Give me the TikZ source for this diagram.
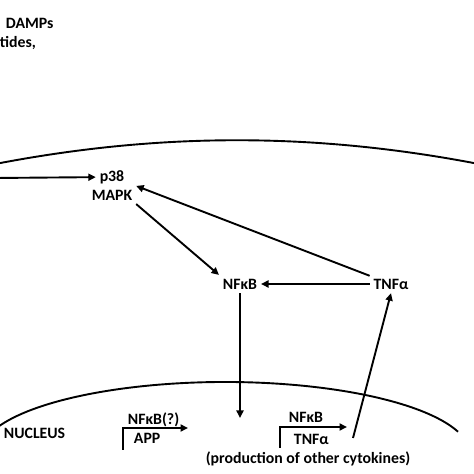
\documentclass[tikz,border=0pt]{standalone}
\usepackage{fontspec}
\setmainfont{Carlito}
\usetikzlibrary{arrows.meta}
\begin{document}
\begin{tikzpicture}[x=1pt, y=1pt, line width=1.9pt,
  >={Triangle[length=7.5pt,width=7pt]},
  lbl/.style={font=\bfseries\fontsize{15.8}{18}\selectfont, inner sep=3pt}]
\useasboundingbox (0,0) rectangle (474,474);
\clip (0,0) rectangle (474,474);

% membranes
\draw (-10,309) .. controls (158,342) and (316,342) .. (484,309);
\draw (225,20) ++(160:245 and 72) arc[start angle=160, end angle=18, x radius=245, y radius=72];

\node[lbl, anchor=west] (D1) at (2,451) {DAMPs};
\node[lbl, anchor=east] (D2) at (40,431) {tides,};

\node[lbl] (P1) at (112,297) {p38};
\node[lbl] (M1) at (112,279) {MAPK};
\node[lbl] (N1) at (240,190) {NFκB};
\node[lbl] (T1) at (391,190) {TNFα};
\node[lbl, anchor=west] (K1) at (0,41) {NUCLEUS};

\node[lbl, anchor=west] (N2) at (124,54) {NFκB(?)};
\node[lbl, anchor=west] (A1) at (130,36) {APP};
\node[lbl, anchor=west] (N3) at (285,57) {NFκB};
\node[lbl, anchor=west] (T2) at (290,35) {TNFα};
\node[lbl] (C1) at (308,15) {(production of other cytokines)};

\coordinate (E0) at (-5,296);
\coordinate (E1) at (240,56);
\coordinate (E2) at (353,36);
\coordinate (B1) at (123,24);
\coordinate (F1) at (188,46);
\coordinate (B2) at (280,26);
\coordinate (F2) at (347,47);

\draw[->] (E0) -- (P1);
\draw[->] (T1) -- (M1.north east);
\draw[->] (M1.south east) -- (N1.north west);
\draw[->] (T1) -- (N1);
\draw[->] (N1) -- (E1);
\draw[->] (E2) -- (T1.south);
\draw[->] (B1) |- (F1);
\draw[->] (B2) |- (F2);
\end{tikzpicture}
\end{document}
